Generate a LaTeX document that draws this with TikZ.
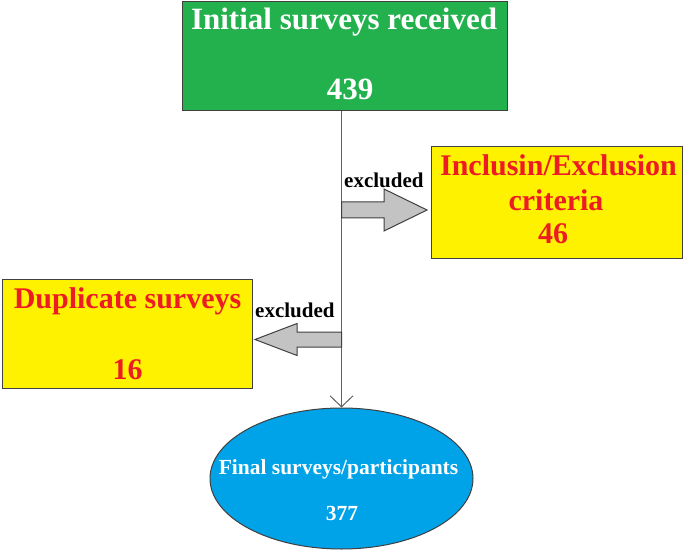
\documentclass[tikz,border=0pt]{standalone}
\usepackage{fontspec}
\setmainfont{Liberation Serif}
\usetikzlibrary{shapes.geometric,arrows.meta}
\definecolor{boxgreen}{HTML}{22B14C}
\definecolor{boxyellow}{HTML}{FFF200}
\definecolor{txtred}{HTML}{ED1C24}
\definecolor{ellblue}{HTML}{00A2E8}
\definecolor{arrgrey}{HTML}{C3C3C3}
\definecolor{edgegrey}{HTML}{404040}
\definecolor{linegrey}{HTML}{606060}
\tikzset{
  boxnode/.style={draw=edgegrey, line width=1pt, rectangle, inner sep=0pt},
  bigtxt/.style={anchor=base, inner sep=0pt, font=\fontsize{31}{31}\selectfont\bfseries},
  midtxt/.style={anchor=base, inner sep=0pt, font=\fontsize{30}{30}\selectfont\bfseries, text=txtred},
  smalltxt/.style={anchor=base, inner sep=0pt, font=\fontsize{21.5}{21.5}\selectfont\bfseries, text=white},
  exctxt/.style={anchor=base west, inner sep=0pt, font=\fontsize{21}{21}\selectfont\bfseries, text=black},
  blockarrow/.style={fill=arrgrey, draw=edgegrey, line width=1pt, line join=miter},
  flowline/.style={draw=linegrey, line width=1.2pt, -{Straight Barb[length=11pt,width=23pt,line width=1pt]}}
}
\begin{document}
\begin{tikzpicture}[x=1pt,y=-1pt]
\useasboundingbox[fill=white] (0,0) rectangle (685,553);
% boxes
\node[boxnode, fill=boxgreen, minimum width=325, minimum height=109] (green) at (344.5,56.5) {};
\node[boxnode, fill=boxyellow, minimum width=251, minimum height=112] (incl) at (556.5,203) {};
\node[boxnode, fill=boxyellow, minimum width=250, minimum height=108] (dup) at (127,334) {};
\node[draw=edgegrey, line width=1pt, fill=ellblue, ellipse, inner sep=0pt, minimum width=263, minimum height=141] (final) at (341.5,478.5) {};
% texts
\node[bigtxt, text=white] (t1) at (344,30) {Initial surveys received};
\node[bigtxt, text=white] (t2) at (350,100) {439};
\node[midtxt] (t3) at (558.5,176) {Inclusin/Exclusion};
\node[midtxt] (t4) at (556,211) {criteria};
\node[midtxt] (t5) at (553,244) {46};
\node[midtxt] (t6) at (127.5,308) {Duplicate surveys};
\node[midtxt] (t7) at (127.5,379) {16};
\node[smalltxt] (t8) at (338.5,474) {Final surveys/participants};
\node[smalltxt] (t9) at (342,520) {377};
\node[exctxt] (e1) at (344,188) {excluded};
\node[exctxt] (e2) at (255,317) {excluded};
% main flow line
\coordinate (top) at (green.south -| final.north);
\draw[flowline] (top) -- (final.north);
% block arrows
\coordinate (ra) at (341.5,210);
\coordinate (la) at (341.5,339.5);
\draw[blockarrow] (ra) ++(0,-8) -- ++(42.5,0) -- ++(0,-13) -- ++(43,21) -- ++(-43,21) -- ++(0,-13) -- ++(-42.5,0) -- cycle;
\draw[blockarrow] (la) ++(0,-7.5) -- ++(-44.5,0) -- ++(0,-8.5) -- ++(-42,16) -- ++(42,16) -- ++(0,-8.5) -- ++(44.5,0) -- cycle;
\end{tikzpicture}
\end{document}
